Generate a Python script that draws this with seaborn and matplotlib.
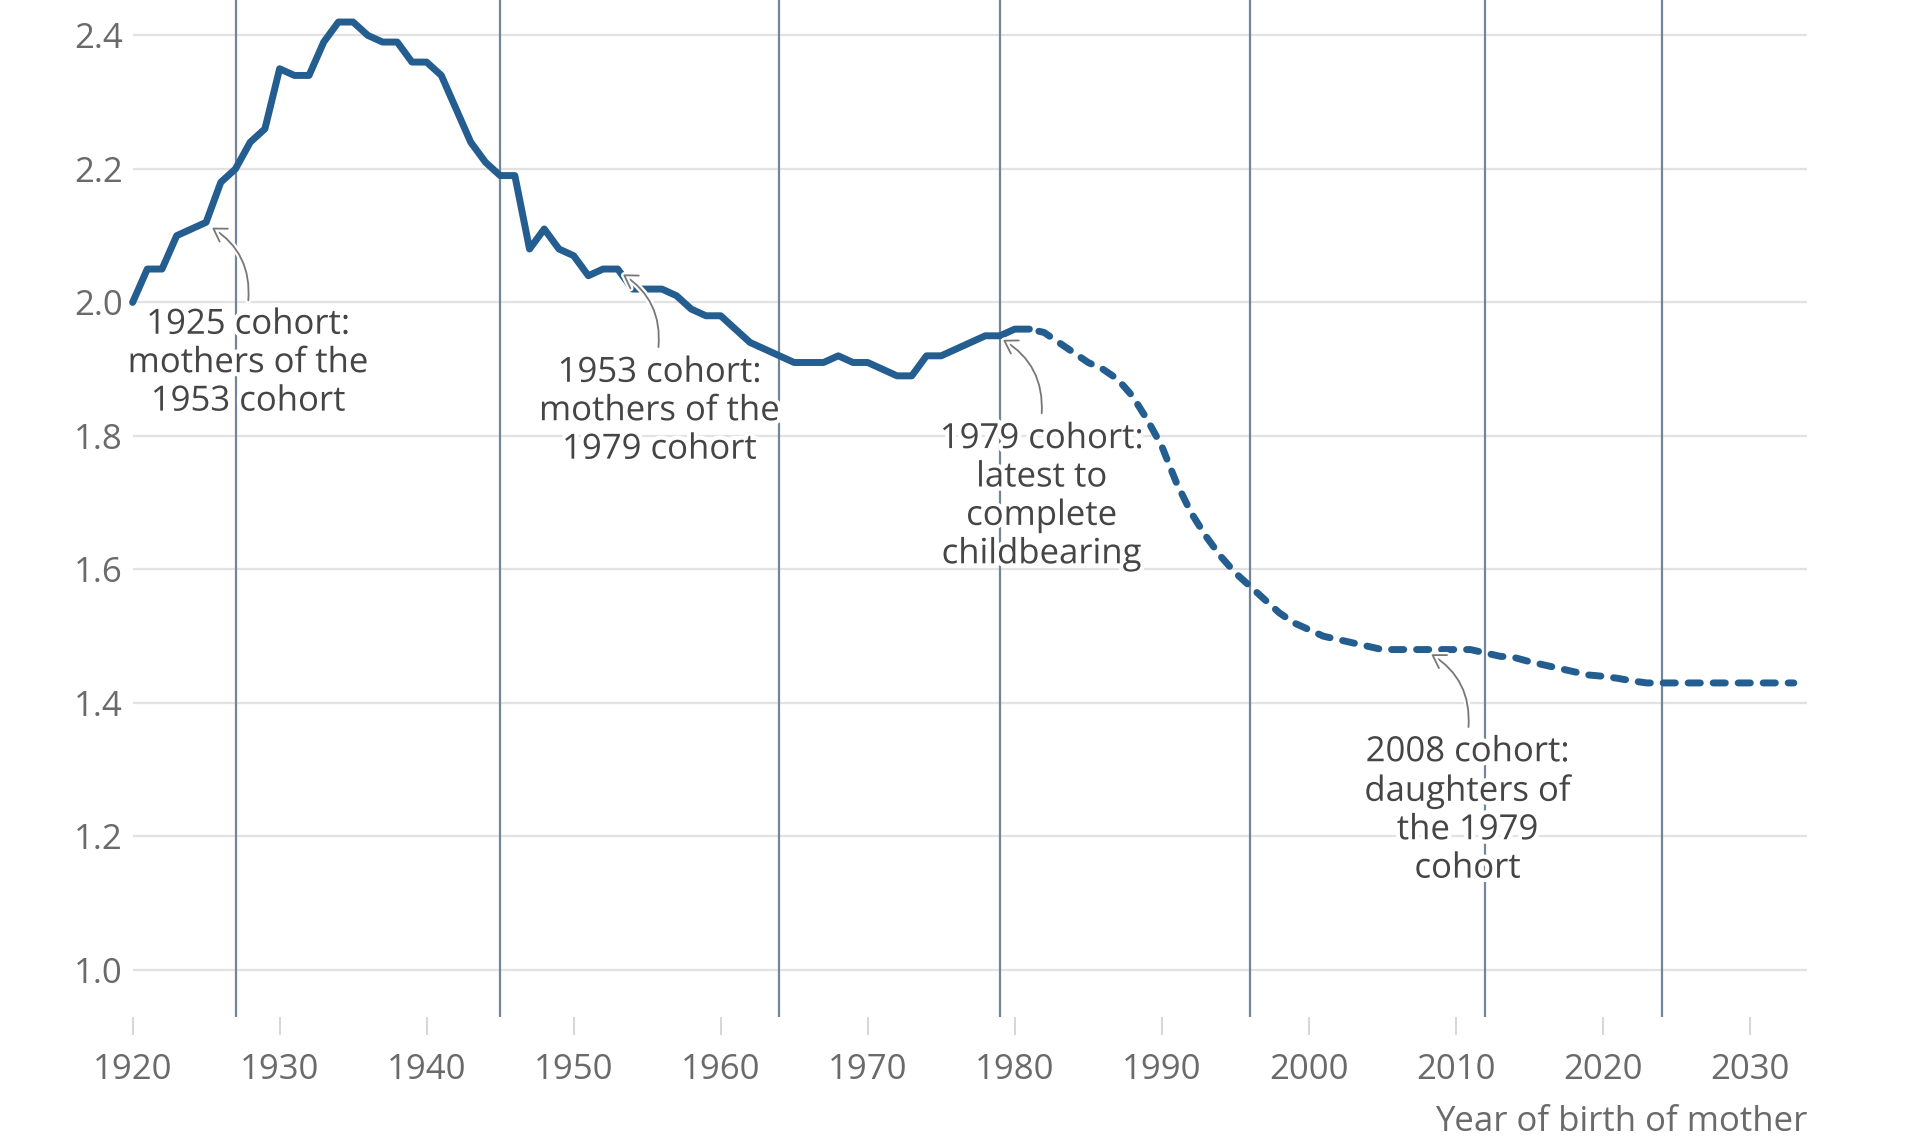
import matplotlib
matplotlib.use("Agg")
import matplotlib.pyplot as plt
import matplotlib.patheffects as pe
import pandas as pd
import seaborn as sns

# Completed family size by year of birth of mother (observed, then projected)
years_observed = list(range(1920, 1982))
tfr_observed = [
    2.00, 2.05, 2.05, 2.10, 2.11, 2.12, 2.18, 2.20, 2.24, 2.26,
    2.35, 2.34, 2.34, 2.39, 2.42, 2.42, 2.40, 2.39, 2.39, 2.36,
    2.36, 2.34, 2.29, 2.24, 2.21, 2.19, 2.19, 2.08, 2.11, 2.08,
    2.07, 2.04, 2.05, 2.05, 2.02, 2.02, 2.02, 2.01, 1.99, 1.98,
    1.98, 1.96, 1.94, 1.93, 1.92, 1.91, 1.91, 1.91, 1.92, 1.91,
    1.91, 1.90, 1.89, 1.89, 1.92, 1.92, 1.93, 1.94, 1.95, 1.95,
    1.96, 1.96,
]
years_projected = list(range(1981, 2034))
tfr_projected = [
    1.96, 1.955, 1.94, 1.925, 1.91, 1.90, 1.885, 1.86, 1.825,
    1.785, 1.73, 1.685, 1.65, 1.62, 1.595, 1.575, 1.555, 1.535, 1.52,
    1.51, 1.50, 1.495, 1.49, 1.485, 1.48, 1.48, 1.48, 1.48, 1.48,
    1.48, 1.48, 1.475, 1.47, 1.468, 1.462, 1.457, 1.452, 1.447, 1.442,
    1.44, 1.437, 1.433, 1.43, 1.43, 1.43, 1.43, 1.43, 1.43, 1.43,
    1.43, 1.43, 1.43, 1.43,
]

generation_years = [1927, 1945, 1964, 1979, 1996, 2012, 2024]

x_ticks = list(range(1920, 2031, 10))
y_ticks = [1.0, 1.2, 1.4, 1.6, 1.8, 2.0, 2.2, 2.4]

note_labels = [
    "1925 cohort:\nmothers of the\n1953 cohort",
    "1953 cohort:\nmothers of the\n1979 cohort",
    "1979 cohort:\nlatest to\ncomplete\nchildbearing",
    "2008 cohort:\ndaughters of\nthe 1979\ncohort",
]
note_tips = [(1925.4, 2.112), (1953.35, 2.042), (1979.2, 1.944), (2008.33, 1.473)]
note_tails = [(1927.87, 2.003), (1955.77, 1.933), (1981.84, 1.834), (2010.87, 1.364)]
note_centers = [(1927.86, 1.909), (1955.84, 1.837), (1981.84, 1.709), (2010.81, 1.239)]

observed = pd.DataFrame({"year": years_observed, "tfr": tfr_observed})
projected = pd.DataFrame({"year": years_projected, "tfr": tfr_projected})

sns.set_theme(style="white")
plt.rcParams["font.family"] = ["Open Sans", "DejaVu Sans"]

line_color = "#245d8f"
text_color = "#454545"
tick_color = "#6a6a6a"

fig = plt.figure(figsize=(19.08, 11.46), dpi=100)
ax = fig.add_axes([0.0695, 0.1128, 0.8776, 0.8872])

for yr in generation_years:
    ax.axvline(yr, color="#74849a", linewidth=1.6, zorder=1)

sns.lineplot(data=observed, x="year", y="tfr", ax=ax, color=line_color,
             linewidth=5, solid_capstyle="round", solid_joinstyle="round",
             zorder=3, clip_on=False)
sns.lineplot(data=projected, x="year", y="tfr", ax=ax, color=line_color,
             linewidth=5, linestyle=(2.2, (1.75, 1.85)),
             dash_capstyle="round", zorder=3, clip_on=False)

halo = [pe.withStroke(linewidth=6, foreground="white")]
for label, tip, tail, center in zip(note_labels, note_tips, note_tails,
                                    note_centers):
    ax.annotate("", xy=tip, xytext=tail,
                arrowprops=dict(arrowstyle="->,head_length=0.4,head_width=0.25",
                                connectionstyle="arc3,rad=0.3",
                                color="#777777", lw=1.3, shrinkA=0, shrinkB=0,
                                mutation_scale=22,
                                path_effects=[pe.withStroke(linewidth=4.5,
                                                            foreground="white")]),
                zorder=5)
    ax.text(center[0], center[1], label, ha="center", va="center",
            fontsize=25, color=text_color, linespacing=1.17,
            path_effects=halo, zorder=6)

ax.set_xlim(1920, 2033.9)
ax.set_ylim(0.93, 2.453)
ax.set_xticks(x_ticks)
ax.set_yticks(y_ticks)
ax.set_yticklabels([f"{v:.1f}" for v in y_ticks])
ax.yaxis.grid(True, color="#e2e2e2", linewidth=1.6)
ax.xaxis.grid(False)
ax.set_axisbelow(True)
for side in ["top", "right", "bottom", "left"]:
    ax.spines[side].set_visible(False)

ax.tick_params(axis="x", length=13, width=1.1, color="#cccccc", pad=13,
               labelsize=25, labelcolor=tick_color, bottom=True)
ax.tick_params(axis="y", length=0, pad=7, labelsize=25, labelcolor=tick_color)
ax.set_xlabel("Year of birth of mother", loc="right", fontsize=25,
              color=tick_color, labelpad=13)
ax.set_ylabel("")

plt.savefig("out.png", dpi=100)
